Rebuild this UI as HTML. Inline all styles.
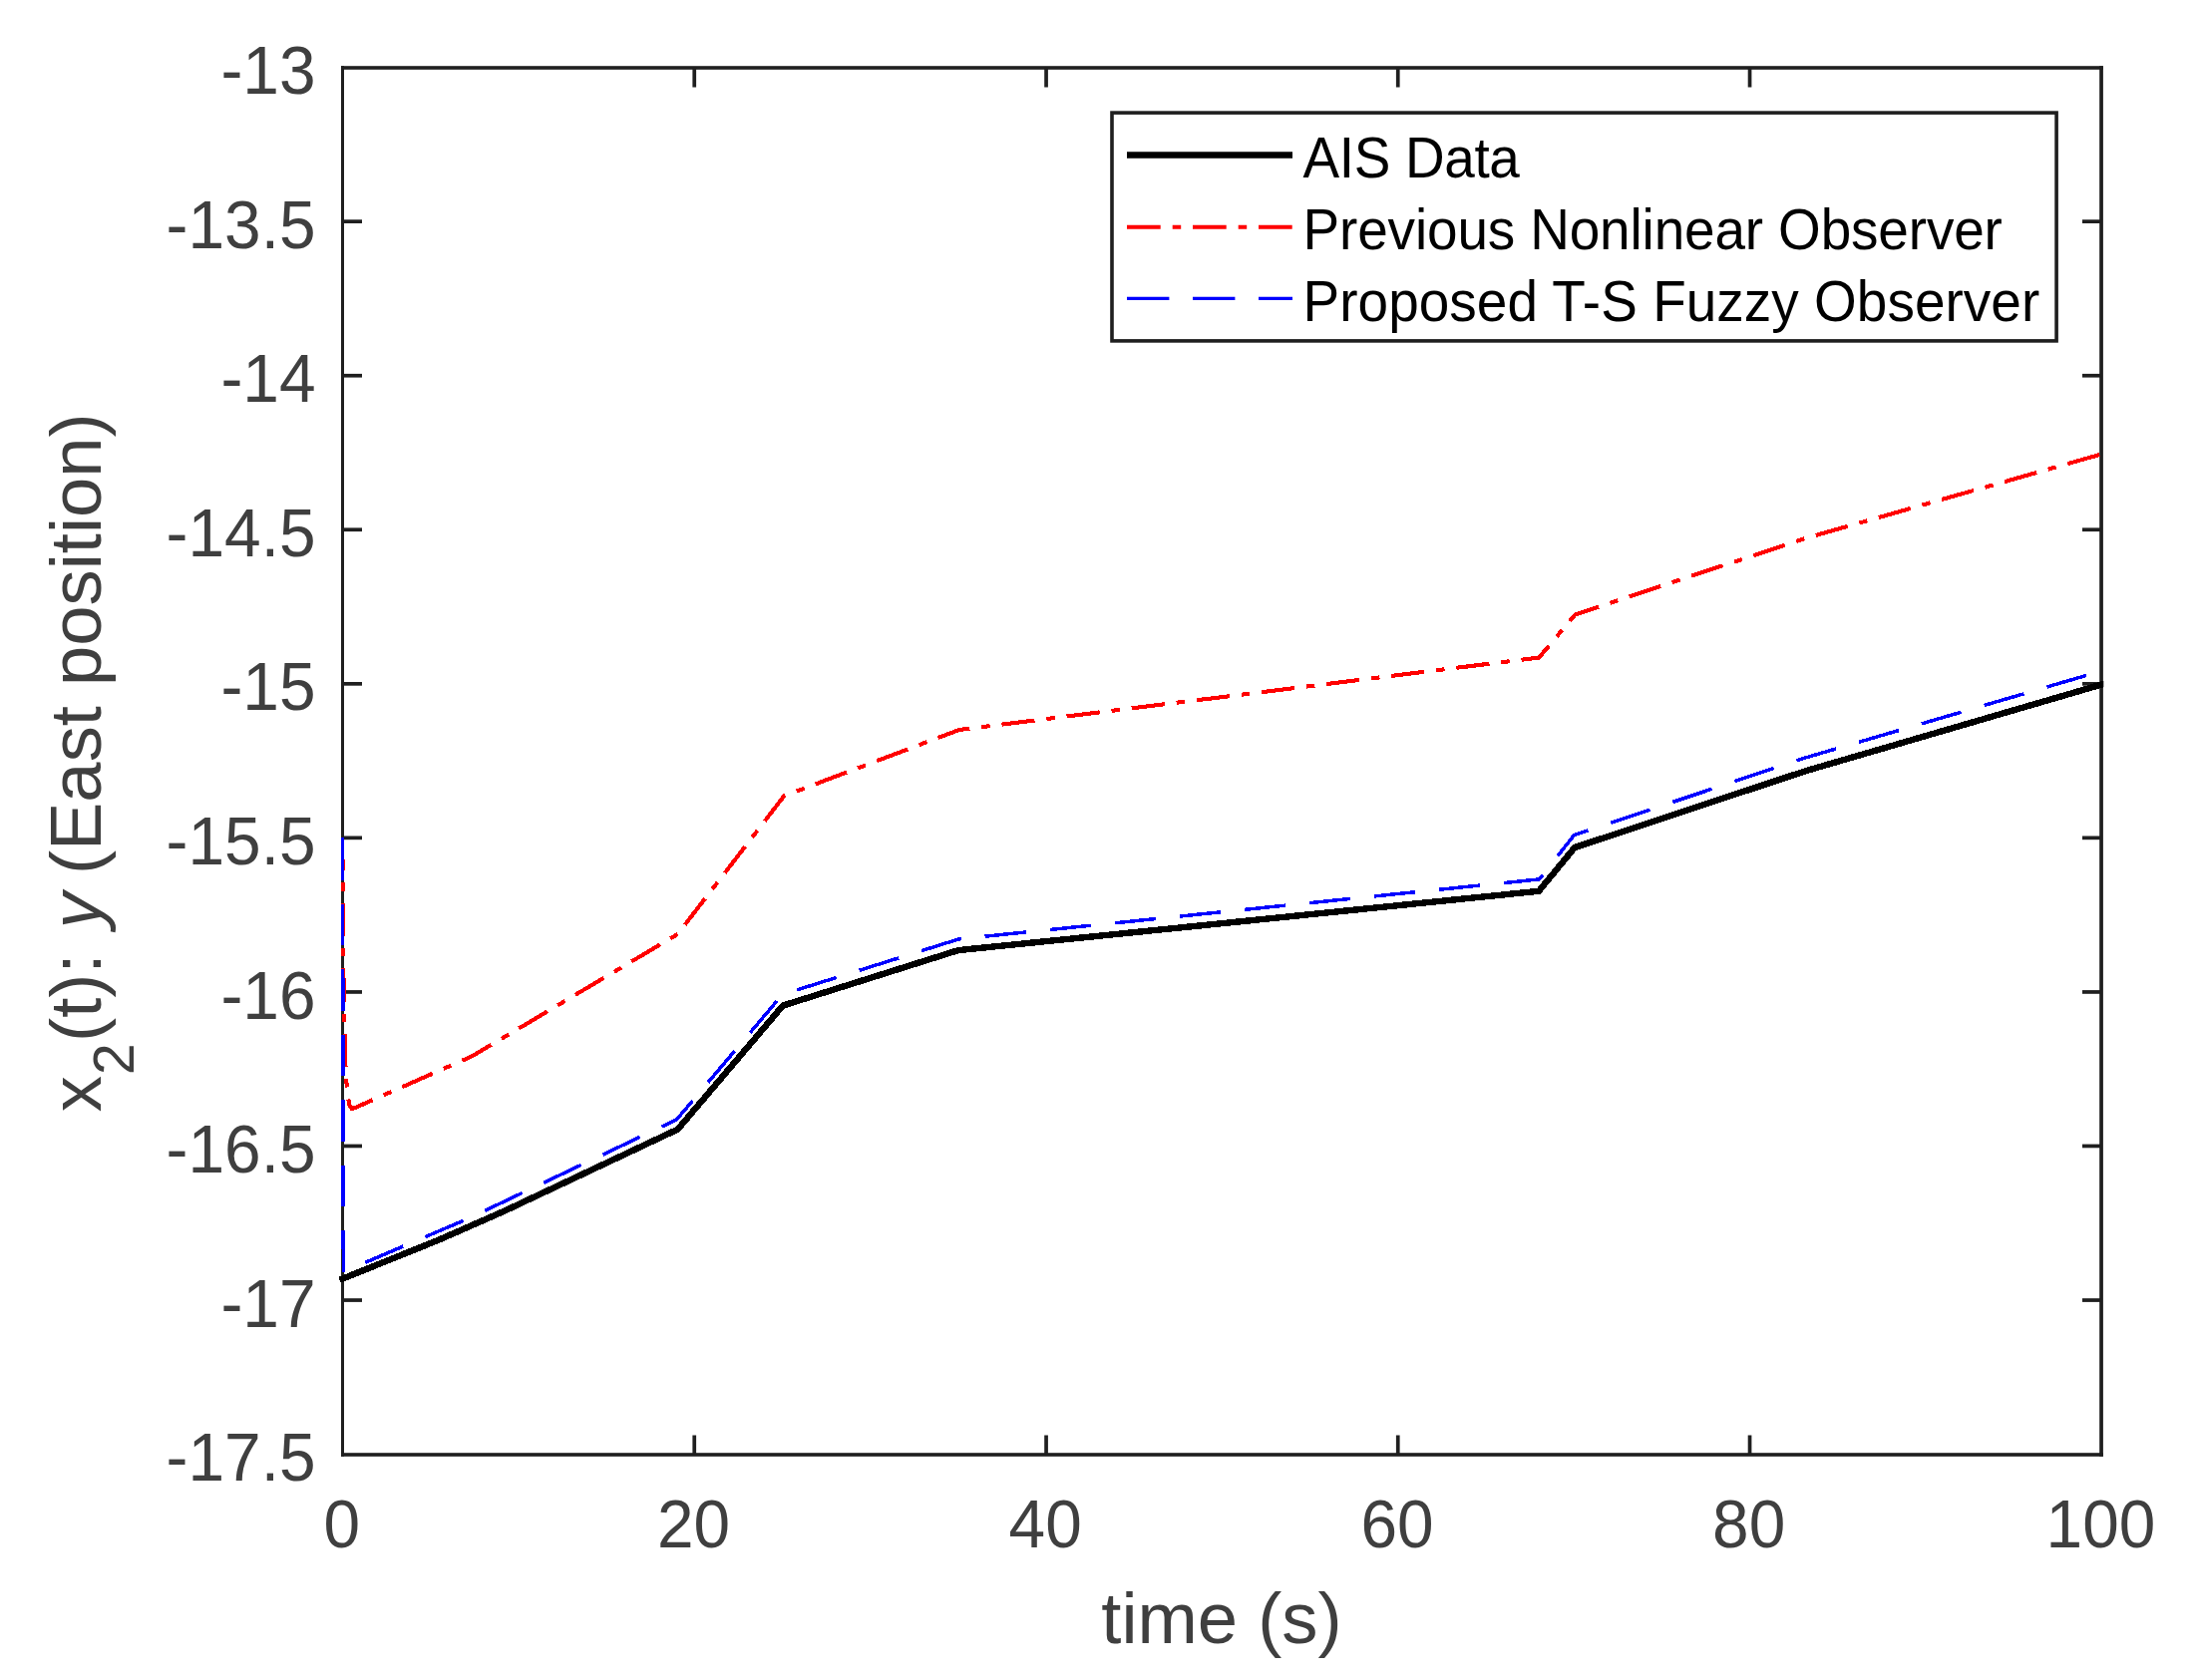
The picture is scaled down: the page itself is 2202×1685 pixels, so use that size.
<!DOCTYPE html>
<html lang="en"><head><meta charset="utf-8"><title>x2(t): y (East position)</title>
<style>html,body{margin:0;padding:0;background:#fff}body{width:2202px;height:1685px;overflow:hidden}svg{display:block}text{font-family:"Liberation Sans",sans-serif}</style>
</head><body>
<svg width="2202" height="1685" viewBox="0 0 2202 1685">
<rect width="2202" height="1685" fill="#fff"/>
<defs><clipPath id="ac"><rect x="340" y="60" width="1769.3" height="1405"/></clipPath></defs>
<g fill="#1f1f1f">
<rect x="342" y="66.2" width="3" height="1394.6"/>
<rect x="2105.2" y="66.2" width="3.7" height="1394.6"/>
<rect x="342" y="66.2" width="1766.9" height="3.6"/>
<rect x="342" y="1457.2" width="1766.9" height="3.6"/>
<rect x="694.4" y="1439.5" width="3.7" height="19"/>
<rect x="694.4" y="68" width="3.7" height="19.5"/>
<rect x="1047.2" y="1439.5" width="3.7" height="19"/>
<rect x="1047.2" y="68" width="3.7" height="19.5"/>
<rect x="1399.9" y="1439.5" width="3.7" height="19"/>
<rect x="1399.9" y="68" width="3.7" height="19.5"/>
<rect x="1752.7" y="1439.5" width="3.7" height="19"/>
<rect x="1752.7" y="68" width="3.7" height="19.5"/>
<rect x="343" y="220.3" width="20" height="3.7"/>
<rect x="2088" y="220.3" width="19" height="3.7"/>
<rect x="343" y="374.9" width="20" height="3.7"/>
<rect x="2088" y="374.9" width="19" height="3.7"/>
<rect x="343" y="529.4" width="20" height="3.7"/>
<rect x="2088" y="529.4" width="19" height="3.7"/>
<rect x="343" y="684.0" width="20" height="3.7"/>
<rect x="2088" y="684.0" width="19" height="3.7"/>
<rect x="343" y="838.5" width="20" height="3.7"/>
<rect x="2088" y="838.5" width="19" height="3.7"/>
<rect x="343" y="993.1" width="20" height="3.7"/>
<rect x="2088" y="993.1" width="19" height="3.7"/>
<rect x="343" y="1147.6" width="20" height="3.7"/>
<rect x="2088" y="1147.6" width="19" height="3.7"/>
<rect x="343" y="1302.2" width="20" height="3.7"/>
<rect x="2088" y="1302.2" width="19" height="3.7"/>
</g>
<g fill="none" stroke-linejoin="round" shape-rendering="crispEdges">
<polyline points="343.5,1282.6 440.0,1243.6 505.0,1215.0 679.5,1132.7 785.0,1008.6 961.0,953.1 1543.0,893.8 1579.0,850.0 1810.0,773.4 2107.5,686.5" stroke="#000" stroke-width="6.4" stroke-linejoin="miter" stroke-linecap="square" clip-path="url(#ac)"/>
<polyline points="344.0,862.0 344.0,960.0 344.9,1000.0 346.0,1050.0 346.5,1070.0 347.5,1086.0 349.1,1102.0 350.6,1108.5 353.1,1112.3 472.9,1059.5 679.5,937.0 786.2,798.3 962.0,731.9 1543.3,659.5 1579.5,616.4 1810.0,540.0 2107.5,455.4" stroke="#ff0000" stroke-width="4.1" stroke-dasharray="33.3 12 8.4 11.935" stroke-dashoffset="22"/>
<polyline points="343.5,840.0 344.3,1275.7 470.0,1222.0 678.5,1122.9 784.5,997.5 961.5,941.9 1543.5,881.9 1578.6,837.4 1810.0,760.1 2107.5,672.9" stroke="#0000ff" stroke-width="3.5" stroke-dasharray="41.4 24.02" stroke-dashoffset="63.79"/>
<path d="M343.5 839.9V843" stroke="#0000ff" stroke-width="3.5"/>
</g>
<g fill="#3f3f3f" font-size="65.8">
<text transform="translate(342.7,1552) scale(1,1.035)" text-anchor="middle">0</text>
<text transform="translate(695.5,1552) scale(1,1.035)" text-anchor="middle">20</text>
<text transform="translate(1048.2,1552) scale(1,1.035)" text-anchor="middle">40</text>
<text transform="translate(1401.0,1552) scale(1,1.035)" text-anchor="middle">60</text>
<text transform="translate(1753.7,1552) scale(1,1.035)" text-anchor="middle">80</text>
<text transform="translate(2106.5,1552) scale(1,1.035)" text-anchor="middle">100</text>
<text transform="translate(316.5,94.2) scale(1,1.035)" text-anchor="end">-13</text>
<text transform="translate(316.5,248.8) scale(1,1.035)" text-anchor="end">-13.5</text>
<text transform="translate(316.5,403.3) scale(1,1.035)" text-anchor="end">-14</text>
<text transform="translate(316.5,557.9) scale(1,1.035)" text-anchor="end">-14.5</text>
<text transform="translate(316.5,712.4) scale(1,1.035)" text-anchor="end">-15</text>
<text transform="translate(316.5,867.0) scale(1,1.035)" text-anchor="end">-15.5</text>
<text transform="translate(316.5,1021.5) scale(1,1.035)" text-anchor="end">-16</text>
<text transform="translate(316.5,1176.1) scale(1,1.035)" text-anchor="end">-16.5</text>
<text transform="translate(316.5,1330.6) scale(1,1.035)" text-anchor="end">-17</text>
<text transform="translate(316.5,1485.2) scale(1,1.035)" text-anchor="end">-17.5</text>
</g>
<text x="1225" y="1647.6" text-anchor="middle" font-size="72.4" fill="#3f3f3f">time (s)</text>
<text transform="translate(101,1115.3) rotate(-90)" font-size="72.4" fill="#3f3f3f">x<tspan font-size="57" dy="33" dx="1.1">2</tspan><tspan dy="-33" dx="1.4">(t): </tspan><tspan font-style="italic" dx="5.1">y</tspan><tspan dx="-2.1"> (East position)</tspan></text>
<rect x="1113.2" y="111.3" width="950.7" height="232.4" fill="#1f1f1f"/>
<rect x="1116.8" y="114.9" width="943.5" height="225.2" fill="#fff"/>
<g fill="none">
<path d="M1130 155.5H1296" stroke="#000" stroke-width="6.6"/>
<path d="M1130 227.7H1296" stroke="#ff0000" stroke-width="4.1" stroke-dasharray="33.7 12 8.5 11.8"/>
<path d="M1130 299.3H1296" stroke="#0000ff" stroke-width="3.2" stroke-dasharray="42.4 23.6"/>
</g>
<g fill="#000" font-size="54.9">
<text transform="translate(1306.6,178) scale(1,1.04)" textLength="217.3">AIS Data</text>
<text transform="translate(1306.6,250.1) scale(1,1.04)" textLength="701.3">Previous Nonlinear Observer</text>
<text transform="translate(1306.6,322.1) scale(1,1.04)" textLength="738.6">Proposed T-S Fuzzy Observer</text>
</g>
</svg></body></html>
